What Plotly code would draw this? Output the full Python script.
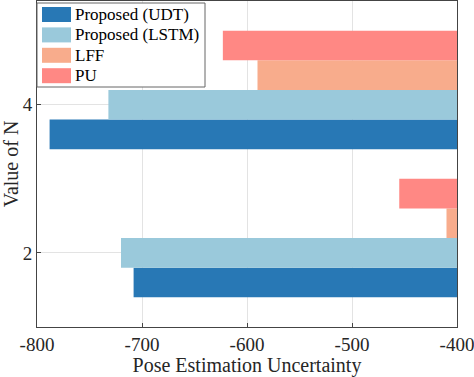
import plotly.graph_objects as go

N_values = [2, 4]
series_names = ["Proposed (UDT)", "Proposed (LSTM)", "LFF", "PU"]
udt = [-708, -788]
lstm = [-720, -732]
lff = [-410, -590]
pu = [-455, -623]
x_ticks = [-800, -700, -600, -500, -400]
y_ticks = [2, 4]

colors = ["#2878B5", "#9AC9DB", "#F8AC8C", "#FF8884"]
series = [udt, lstm, lff, pu]
bar_w = 0.4
offsets = [-0.6, -0.2, 0.2, 0.6]

W, H = 474, 377
ML, MR, MT, MB = 37, 17, 1, 50
PW, PH = W - ML - MR, H - MT - MB


def px_x(px):
    return (px - ML) / PW


def px_y(py):
    return (H - MB - py) / PH


fig = go.Figure()
for name, vals, c, off in zip(series_names, series, colors, offsets):
    fig.add_trace(go.Bar(
        y=N_values, x=vals, orientation="h", width=bar_w, offset=off,
        marker=dict(color=c, line=dict(width=0)), name=name, showlegend=False,
    ))

font_family = "Liberation Serif"

# legend drawn as a boxed key (MATLAB style wide swatches)
shapes = [dict(type="rect", xref="paper", yref="paper", layer="above",
               x0=px_x(37), x1=px_x(205), y0=px_y(3), y1=px_y(87),
               fillcolor="white", line=dict(color="#666", width=1))]
annotations = []
row_h = 20.4
for i, (name, c) in enumerate(zip(series_names, colors)):
    cy = 14.5 + i * row_h
    shapes.append(dict(type="rect", xref="paper", yref="paper", layer="above",
                       x0=px_x(42), x1=px_x(71), y0=px_y(cy + 7.5), y1=px_y(cy - 7.5),
                       fillcolor=c, line=dict(width=0)))
    annotations.append(dict(xref="paper", yref="paper", x=px_x(73), y=px_y(cy),
                            xanchor="left", yanchor="middle", showarrow=False,
                            text=name, font=dict(family=font_family, size=17, color="black")))

fig.update_layout(
    width=W, height=H,
    margin=dict(l=ML, r=MR, t=MT, b=MB, autoexpand=False),
    barmode="overlay",
    plot_bgcolor="white", paper_bgcolor="white",
    font=dict(family=font_family, size=19, color="#262626"),
    showlegend=False,
    shapes=shapes,
    annotations=annotations,
    xaxis=dict(
        range=[-800, -400], tickvals=x_ticks, ticktext=[str(v) for v in x_ticks],
        showgrid=True, gridcolor="#e3e3e3", zeroline=False,
        showline=True, linecolor="#444", linewidth=1, mirror=True,
        ticks="inside", ticklen=4, tickcolor="#444", automargin=False,
        ticklabeloverflow="allow",
        title=dict(text="Pose Estimation Uncertainty", standoff=0,
                   font=dict(family=font_family, size=20, color="#262626")),
    ),
    yaxis=dict(
        range=[1, 5.4], tickvals=y_ticks, ticktext=[str(v) for v in y_ticks],
        showgrid=True, gridcolor="#e3e3e3", zeroline=False,
        showline=True, linecolor="#444", linewidth=1, mirror=True,
        ticks="inside", ticklen=4, tickcolor="#444", automargin=False,
        title=dict(text="Value of N", standoff=4,
                   font=dict(family=font_family, size=20, color="#262626")),
    ),
)

fig.write_html("out.html", post_script="document.body.style.margin='0';",
               config={"displayModeBar": False})
